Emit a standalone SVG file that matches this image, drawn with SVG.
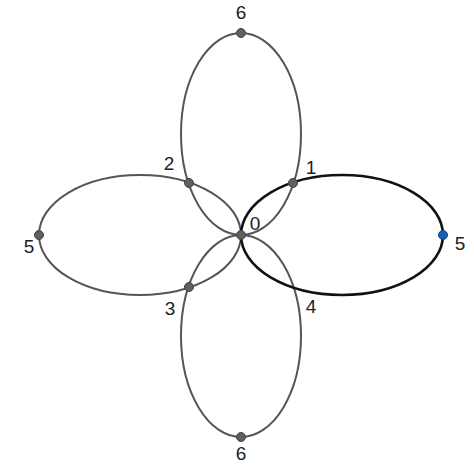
<svg xmlns="http://www.w3.org/2000/svg" width="474" height="467" viewBox="0 0 474 467">
<style>
.e{fill:none;stroke:#555;stroke-width:2}
.eb{fill:none;stroke:#111;stroke-width:2.6}
.p{fill:#606060;stroke:#404040;stroke-width:1}
.pb{fill:#1a5fb4;stroke:#15407a;stroke-width:1}
text{font-family:"Liberation Sans",Arial,sans-serif;font-size:19px;fill:#222;text-anchor:middle}
</style>
<rect width="474" height="467" fill="#fff"/>
<g id="connectors">
<ellipse class="e" cx="241" cy="134" rx="60" ry="101"/>
<ellipse class="e" cx="241" cy="336" rx="60" ry="101"/>
<ellipse class="e" cx="140" cy="235" rx="101" ry="60"/>
<ellipse class="eb" cx="342" cy="235" rx="101" ry="60"/>
</g>
<g id="n0"><circle class="p" cx="241" cy="235" r="4.5"/><text x="255" y="230">0</text></g>
<g id="n1"><circle class="p" cx="293" cy="183" r="4.5"/><text x="311" y="174">1</text></g>
<g id="n2"><circle class="p" cx="189" cy="183" r="4.5"/><text x="169" y="170">2</text></g>
<g id="n3"><circle class="p" cx="189" cy="287" r="4.5"/><text x="170" y="315">3</text></g>
<g id="n4"><text x="311" y="313">4</text></g>
<g id="n5l"><circle class="p" cx="39" cy="235" r="4.5"/><text x="29" y="253">5</text></g>
<g id="n5r"><circle class="pb" cx="443" cy="235" r="4.5"/><text x="460" y="250">5</text></g>
<g id="n6t"><circle class="p" cx="241" cy="33" r="4.5"/><text x="241" y="19">6</text></g>
<g id="n6b"><circle class="p" cx="241" cy="437" r="4.5"/><text x="241" y="460">6</text></g>
</svg>
